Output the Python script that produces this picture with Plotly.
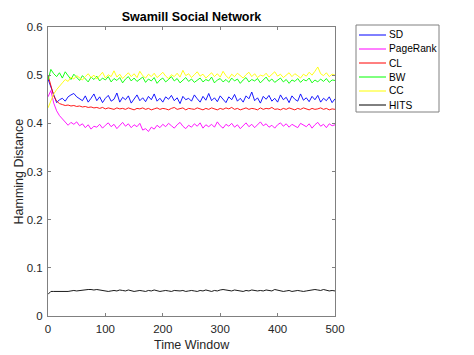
import plotly.graph_objects as go

time_window = list(range(0, 501, 5))

sd = [0.492,0.476,0.456,0.443,0.449,0.452,0.446,0.455,0.459,0.462,
0.455,0.451,0.447,0.457,0.444,0.452,0.461,0.447,0.455,0.443,
0.452,0.458,0.446,0.450,0.463,0.444,0.454,0.449,0.457,0.442,
0.451,0.459,0.447,0.453,0.445,0.456,0.449,0.461,0.446,0.452,
0.444,0.455,0.450,0.458,0.447,0.453,0.441,0.456,0.449,0.452,
0.446,0.459,0.451,0.444,0.456,0.448,0.462,0.447,0.453,0.445,
0.457,0.450,0.443,0.455,0.449,0.460,0.446,0.452,0.444,0.457,
0.451,0.465,0.447,0.453,0.442,0.456,0.450,0.458,0.446,0.452,
0.444,0.459,0.449,0.454,0.443,0.457,0.450,0.446,0.461,0.448,
0.453,0.445,0.456,0.449,0.458,0.444,0.452,0.447,0.455,0.443,
0.451]

pagerank = [0.455,0.468,0.442,0.426,0.416,0.409,0.401,0.396,0.402,0.398,
0.403,0.395,0.399,0.391,0.397,0.388,0.394,0.392,0.398,0.390,
0.396,0.401,0.393,0.398,0.389,0.395,0.402,0.394,0.399,0.391,
0.397,0.393,0.400,0.386,0.389,0.383,0.392,0.388,0.396,0.391,
0.398,0.393,0.400,0.395,0.390,0.397,0.402,0.394,0.389,0.396,
0.392,0.399,0.394,0.401,0.390,0.397,0.393,0.398,0.392,0.403,
0.395,0.390,0.398,0.394,0.400,0.392,0.397,0.389,0.396,0.401,
0.393,0.398,0.391,0.397,0.403,0.395,0.399,0.392,0.396,0.390,
0.397,0.401,0.394,0.399,0.392,0.398,0.395,0.391,0.400,0.396,
0.393,0.399,0.390,0.397,0.402,0.394,0.398,0.391,0.399,0.395,
0.397]

cl = [0.500,0.476,0.457,0.446,0.441,0.439,0.437,0.438,0.436,0.437,
0.435,0.436,0.434,0.435,0.433,0.434,0.432,0.433,0.431,0.433,
0.430,0.432,0.431,0.429,0.432,0.430,0.431,0.429,0.432,0.430,
0.428,0.431,0.430,0.432,0.429,0.431,0.428,0.430,0.432,0.429,
0.431,0.430,0.428,0.431,0.433,0.429,0.430,0.432,0.428,0.431,
0.430,0.429,0.432,0.430,0.428,0.431,0.429,0.432,0.430,0.428,
0.431,0.429,0.432,0.430,0.433,0.429,0.431,0.428,0.430,0.432,
0.429,0.431,0.430,0.428,0.432,0.429,0.431,0.430,0.433,0.429,
0.430,0.428,0.431,0.429,0.432,0.430,0.428,0.431,0.429,0.432,
0.430,0.428,0.431,0.429,0.430,0.432,0.429,0.431,0.428,0.430,
0.429]

bw = [0.490,0.512,0.503,0.497,0.505,0.494,0.507,0.498,0.491,0.502,
0.495,0.489,0.499,0.493,0.486,0.496,0.491,0.498,0.488,0.494,
0.490,0.497,0.486,0.493,0.489,0.495,0.484,0.492,0.497,0.488,
0.494,0.487,0.491,0.496,0.485,0.492,0.488,0.495,0.483,0.490,
0.494,0.486,0.491,0.497,0.488,0.493,0.484,0.490,0.495,0.487,
0.492,0.485,0.489,0.494,0.486,0.491,0.488,0.496,0.484,0.490,
0.493,0.486,0.491,0.485,0.494,0.488,0.492,0.483,0.490,0.495,
0.486,0.491,0.488,0.493,0.484,0.490,0.496,0.487,0.492,0.485,
0.489,0.494,0.486,0.491,0.483,0.490,0.487,0.493,0.485,0.491,
0.488,0.494,0.484,0.490,0.486,0.492,0.487,0.493,0.485,0.490,
0.489]

cc = [0.432,0.446,0.461,0.470,0.478,0.484,0.491,0.487,0.496,0.492,
0.499,0.494,0.490,0.497,0.503,0.495,0.500,0.492,0.498,0.506,
0.494,0.501,0.497,0.509,0.496,0.502,0.493,0.500,0.505,0.497,
0.503,0.495,0.508,0.499,0.494,0.502,0.497,0.504,0.495,0.500,
0.506,0.498,0.493,0.501,0.497,0.504,0.496,0.510,0.499,0.503,
0.495,0.501,0.507,0.498,0.502,0.494,0.500,0.505,0.497,0.503,
0.496,0.508,0.499,0.493,0.502,0.497,0.504,0.498,0.494,0.501,
0.506,0.497,0.503,0.495,0.500,0.498,0.504,0.496,0.501,0.507,
0.498,0.502,0.495,0.500,0.505,0.497,0.503,0.499,0.494,0.502,
0.498,0.506,0.500,0.508,0.517,0.503,0.499,0.505,0.497,0.502,
0.500]

hits = [0.045,0.051,0.051,0.051,0.050,0.051,0.051,0.051,0.052,0.053,
0.052,0.053,0.054,0.054,0.055,0.055,0.054,0.055,0.054,0.053,
0.052,0.051,0.052,0.053,0.052,0.054,0.053,0.052,0.054,0.053,
0.051,0.052,0.053,0.052,0.051,0.053,0.052,0.054,0.052,0.051,
0.052,0.053,0.052,0.051,0.053,0.052,0.052,0.053,0.051,0.052,
0.053,0.052,0.051,0.053,0.052,0.054,0.052,0.051,0.053,0.052,
0.054,0.055,0.054,0.053,0.052,0.054,0.053,0.052,0.051,0.053,
0.052,0.054,0.053,0.052,0.053,0.052,0.054,0.053,0.052,0.055,
0.054,0.052,0.051,0.052,0.053,0.051,0.052,0.053,0.052,0.051,
0.052,0.053,0.054,0.055,0.054,0.053,0.055,0.054,0.052,0.053,
0.052]

series_names = ["SD", "PageRank", "CL", "BW", "CC", "HITS"]
series_values = [sd, pagerank, cl, bw, cc, hits]
series_colors = ["#0000FF", "#FF00FF", "#FF0000", "#00FF00", "#FFFF00", "#000000"]

x_ticks = [0, 100, 200, 300, 400, 500]
y_ticks = [0, 0.1, 0.2, 0.3, 0.4, 0.5, 0.6]

FONT = "Liberation Sans, Arial, sans-serif"

# The page body has an 8px default margin, so figure coords = screen coords - 8.
OFF = 8
W, H = 474 - OFF, 355 - OFF
L, R, T, B = 48 - OFF, 335 - OFF, 27 - OFF, 316 - OFF  # plot area (figure px)


def px_x(sx):
    """screen x -> paper x"""
    return (sx - OFF - L) / (R - L)


def px_y(sy):
    """screen y -> paper y"""
    return (B - (sy - OFF)) / (B - T)


fig = go.Figure()
for name, vals, col in zip(series_names, series_values, series_colors):
    fig.add_trace(go.Scatter(x=time_window, y=vals, mode="lines", name=name,
                             showlegend=False, line=dict(color=col, width=0.9)))

axis_common = dict(showgrid=False, zeroline=False, showline=True, linecolor="#808080",
                   linewidth=1, mirror="ticks", ticks="inside", ticklen=3,
                   tickcolor="#808080", automargin=False, ticklabelstandoff=2,
                   tickfont=dict(family=FONT, size=11.5, color="#262626"))

shapes = []
annotations = []

# manual legend (box, line samples, labels)
shapes.append(dict(type="rect", xref="paper", yref="paper",
                   x0=px_x(356), x1=px_x(439), y0=px_y(112), y1=px_y(25),
                   line=dict(color="#808080", width=1), fillcolor="white", layer="above"))
for i, (name, col) in enumerate(zip(series_names, series_colors)):
    yc = 35 + 14 * i
    shapes.append(dict(type="line", xref="paper", yref="paper",
                       x0=px_x(359), x1=px_x(386), y0=px_y(yc), y1=px_y(yc),
                       line=dict(color=col, width=1), layer="above"))
    annotations.append(dict(text=name, xref="paper", yref="paper",
                            x=px_x(386.5), y=px_y(yc), xanchor="left", yanchor="middle",
                            showarrow=False, font=dict(family=FONT, size=10.2, color="black")))

# axis titles
annotations.append(dict(text="Time Window", xref="paper", yref="paper",
                        x=px_x(191.5), y=px_y(345), xanchor="center", yanchor="middle",
                        showarrow=False, font=dict(family=FONT, size=12.5, color="#262626")))
annotations.append(dict(text="Hamming Distance", xref="paper", yref="paper",
                        x=px_x(18), y=px_y(171.5), xanchor="center", yanchor="middle",
                        textangle=-90, showarrow=False,
                        font=dict(family=FONT, size=12.5, color="#262626")))

fig.update_layout(
    width=W, height=H,
    margin=dict(l=L, r=W - R, t=T, b=H - B, autoexpand=False),
    paper_bgcolor="white", plot_bgcolor="white",
    title=dict(text="<b>Swamill Social Network</b>",
               x=(191.5 - OFF) / W, xref="container", xanchor="center",
               y=1 - (17 - OFF) / H, yref="container", yanchor="middle", automargin=False,
               font=dict(family=FONT, size=12.5, color="black")),
    xaxis=dict(range=[0, 500], tickvals=x_ticks, ticktext=[str(v) for v in x_ticks],
               **axis_common),
    yaxis=dict(range=[0, 0.6], tickvals=y_ticks, ticktext=[("%g" % v) for v in y_ticks],
               **axis_common),
    shapes=shapes,
    annotations=annotations,
    showlegend=False,
)

fig.write_html("out.html")
